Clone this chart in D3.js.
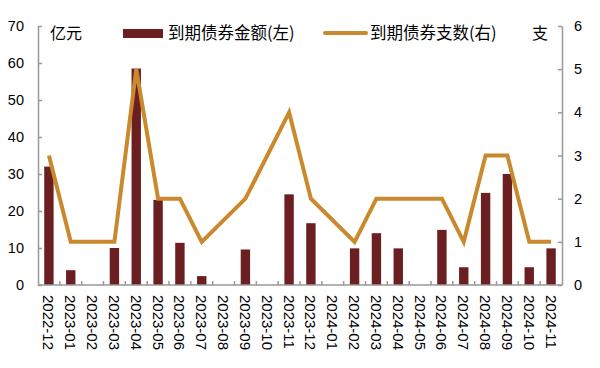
<!DOCTYPE html>
<html><head><meta charset="utf-8">
<script src="https://cdn.jsdelivr.net/npm/d3@7"></script>
<style>body{margin:0;background:#fff;} svg{display:block;}</style>
</head><body>
<svg id="c" width="600" height="368"></svg>
<script>
const categories = ["2022-12","2023-01","2023-02","2023-03","2023-04","2023-05","2023-06","2023-07","2023-08","2023-09","2023-10","2023-11","2023-12","2024-01","2024-02","2024-03","2024-04","2024-05","2024-06","2024-07","2024-08","2024-09","2024-10","2024-11"];
const amount = [32,4,0,10,58.5,23,11.4,2.4,0,9.6,0,24.5,16.7,0,9.9,14,9.9,0,14.9,4.8,24.9,30,4.8,9.9];
const count = [3,1,null,1,5,2,2,1,null,2,null,4,2,null,1,2,2,null,2,1,3,3,1,1];
const leftTicks = [0,10,20,30,40,50,60,70];
const rightTicks = [0,1,2,3,4,5,6];

const svg = d3.select("#c");
const L = 38, R = 562, T = 26, B = 285;
const x = d3.scaleBand().domain(categories).range([L, R]).paddingInner(0.57).paddingOuter(0.285);
const xb = d3.scaleBand().domain(categories).range([L, R]);
const yL = d3.scaleLinear().domain([0,70]).range([B, T]);
const yR = d3.scaleLinear().domain([0,6]).range([B, T]);
const font = "'Liberation Sans', Arial, sans-serif";
const axisColor = "#999";

// bars
svg.append("g").selectAll("rect").data(categories).join("rect")
  .attr("x", d => x(d)).attr("width", x.bandwidth())
  .attr("y", (d,i) => yL(amount[i])).attr("height", (d,i) => B - yL(amount[i]))
  .attr("fill", "#6B1F20");

// line
const pts = categories.map((c,i) => ({c, v: count[i]})).filter(p => p.v !== null);
svg.append("path").datum(pts)
  .attr("d", d3.line().x(p => xb(p.c) + xb.bandwidth()/2).y(p => yR(p.v)))
  .attr("fill", "none").attr("stroke", "#C9892C").attr("stroke-width", 4).attr("stroke-linejoin", "miter");

// left axis
const gl = svg.append("g").attr("transform", `translate(${L},0)`)
  .call(d3.axisLeft(yL).tickValues(leftTicks).tickSizeInner(-4).tickSizeOuter(0).tickPadding(14));
// right axis
const gr = svg.append("g").attr("transform", `translate(${R},0)`)
  .call(d3.axisRight(yR).tickValues(rightTicks).tickFormat(d3.format("d")).tickSizeInner(-4).tickSizeOuter(0).tickPadding(12));
[gl, gr].forEach(g => {
  g.select(".domain").attr("stroke", axisColor).attr("stroke-width", 1.5);
  g.selectAll(".tick line").attr("stroke", axisColor).attr("stroke-width", 1.5);
  g.selectAll("text").attr("font-family", font).attr("font-size", 14.5).attr("fill", "#000");
});

// bottom axis: ticks at band boundaries
const gb = svg.append("g").attr("transform", `translate(0,${B})`);
gb.append("line").attr("x1", L).attr("x2", R).attr("stroke", axisColor).attr("stroke-width", 1.5);
gb.selectAll("line.t").data(categories.slice(1)).join("line").attr("class","t")
  .attr("x1", d => xb(d)).attr("x2", d => xb(d)).attr("y1", 0).attr("y2", -4)
  .attr("stroke", axisColor).attr("stroke-width", 1.5);
gb.selectAll("text").data(categories).join("text")
  .attr("transform", d => `translate(${xb(d) + xb.bandwidth()/2 - 1.5},10) rotate(90)`)
  .attr("font-family", font).attr("font-size", 15).attr("fill", "#000")
  .attr("text-anchor", "start").attr("dominant-baseline", "middle")
  .text(d => d);

// unit labels
const cjk = "'Noto Sans CJK SC', sans-serif";
svg.append("text").attr("x", 50).attr("y", 39).attr("font-family", cjk).attr("font-size", 16).text("亿元");
svg.append("text").attr("x", 532).attr("y", 39).attr("font-family", cjk).attr("font-size", 16).text("支");

// legend
svg.append("rect").attr("x", 123).attr("y", 29).attr("width", 40).attr("height", 9).attr("fill", "#6B1F20");
svg.append("text").attr("x", 168).attr("y", 39).attr("font-family", cjk).attr("font-size", 16.5).text("到期债券金额(左)");
svg.append("line").attr("x1", 325).attr("x2", 366).attr("y1", 33).attr("y2", 33).attr("stroke", "#C9892C").attr("stroke-width", 4).attr("stroke-linecap","round");
svg.append("text").attr("x", 370).attr("y", 39).attr("font-family", cjk).attr("font-size", 16.5).text("到期债券支数(右)");
</script>
</body></html>
